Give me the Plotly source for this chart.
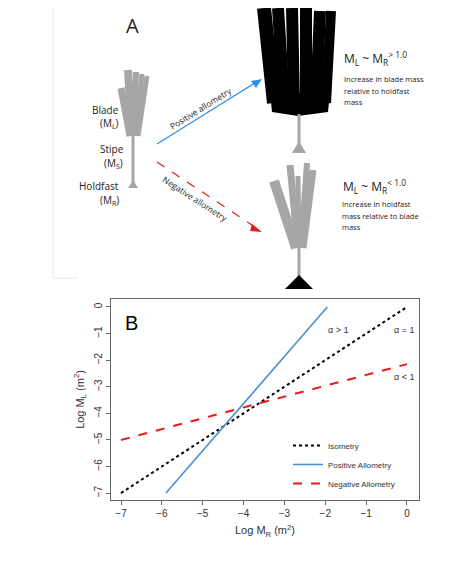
import plotly.graph_objects as go

W, H = 474, 568

# panel B data (log masses)
iso_x = [-7, 0]
iso_y = [-7, 0]
pos_x = [-5.9, -1.95]
pos_y = [-7, 0]
neg_x = [-7, 0]
neg_y = [-5, -2.15]
x_ticks = [-7, -6, -5, -4, -3, -2, -1, 0]
y_ticks = [0, -1, -2, -3, -4, -5, -6, -7]


def px(x, y):
    # pixel position -> paper coords
    return x / W, 1 - y / H


fig = go.Figure()
fig.add_trace(go.Scatter(x=iso_x, y=iso_y, mode="lines", name="Isometry",
                         line=dict(color="black", dash="dot", width=2)))
fig.add_trace(go.Scatter(x=pos_x, y=pos_y, mode="lines", name="Positive Allometry",
                         line=dict(color="#4a8fcf", width=1.6)))
fig.add_trace(go.Scatter(x=neg_x, y=neg_y, mode="lines", name="Negative Allometry",
                         line=dict(color="#e8191c", dash="dash", width=2)))

ax = dict(showline=True, mirror=True, linecolor="#666", linewidth=1.2, ticks="outside",
          ticklen=4, tickcolor="#666", showgrid=False, zeroline=False,
          tickfont=dict(size=10, color="#333"))
fig.update_layout(
    width=W, height=H, margin=dict(l=0, r=0, t=0, b=0),
    plot_bgcolor="white", paper_bgcolor="white",
    font=dict(family="Liberation Sans, Arial", color="#333"),
    xaxis=dict(ax, domain=[103 / W, 411 / W], range=[-7.245, 0.294], tickvals=x_ticks,
               title=dict(text="Log M<sub>R</sub> (m<sup>2</sup>)", font=dict(size=11), standoff=8)),
    yaxis=dict(ax, domain=[1 - 492 / H, 1 - 291 / H], range=[-7.26, 0.3], tickvals=y_ticks,
               tickangle=-90,
               title=dict(text="Log M<sub>L</sub> (m<sup>2</sup>)", font=dict(size=11), standoff=6)),
    legend=dict(x=280 / W, y=1 - 490 / H, xanchor="left", yanchor="bottom",
                bgcolor="rgba(0,0,0,0)", font=dict(size=8), tracegroupgap=0,
                itemwidth=30, traceorder="normal"),
)

for t, x, y in [("α > 1", -1.69, -0.87), ("α = 1", -0.07, -0.87), ("α < 1", -0.07, -2.63)]:
    fig.add_annotation(x=x, y=y, text=t, showarrow=False, font=dict(size=9, color="#333"),
                       xanchor="center")
fig.add_annotation(x=-6.75, y=-0.6, text="B", showarrow=False, font=dict(size=20, color="black"))

# ---- panel A drawing ----
shapes = []


def line(x0, y0, x1, y1, color, width, dash="solid"):
    a, b = px(x0, y0)
    c, d = px(x1, y1)
    shapes.append(dict(type="line", xref="paper", yref="paper", x0=a, y0=b, x1=c, y1=d,
                       line=dict(color=color, width=width, dash=dash)))


def poly(points, color):
    p = [px(x, y) for x, y in points]
    path = "M " + " L ".join(f"{a},{b}" for a, b in p) + " Z"
    shapes.append(dict(type="path", xref="paper", yref="paper", path=path,
                       fillcolor=color, line=dict(width=0)))


gray = "#a6a6a6"
# small kelp
for (x0, y0, x1, y1, w) in [(113, 80, 122, 128, 7), (120, 62, 124, 128, 8), (128, 64, 126, 128, 6),
                            (134, 66, 128, 128, 5), (139, 68, 130, 128, 5)]:
    line(x0, y0, x1, y1, gray, w)
line(125, 128, 125, 176, gray, 3)
poly([(120, 180), (125, 172), (130, 180)], gray)
# big black kelp
for (x0, y0, x1, y1, w) in [(256, 0, 266, 95, 14), (270, 0, 276, 95, 12), (284, 0, 286, 95, 12),
                            (298, 0, 298, 95, 12), (312, 3, 308, 95, 12), (323, 3, 318, 95, 10)]:
    line(x0, y0, x1, y1, "black", w)
poly([(262, 85), (322, 85), (320, 104), (290, 108), (264, 104)], "black")
line(291, 106, 291, 140, gray, 3)
poly([(284, 145), (291, 133), (298, 145)], gray)
# lower gray kelp
for (x0, y0, x1, y1, w) in [(266, 173, 288, 240, 10), (282, 157, 290, 240, 7), (290, 168, 291, 240, 5),
                            (299, 155, 293, 240, 6), (305, 162, 295, 240, 7)]:
    line(x0, y0, x1, y1, gray, w)
line(291, 238, 291, 270, gray, 3)
poly([(277, 281), (291, 267), (305, 281)], "black")
# arrows
line(149, 136, 250, 73, "#2f8fe0", 1.2)
line(149, 154, 250, 221, "#e8191c", 1.2, "dash")
poly([(254, 71), (243, 73), (248, 80)], "#2f8fe0")
poly([(254, 224), (244, 216), (242, 223)], "#e8191c")
# panel border lines
line(45, 0, 45, 270, "#e6e6e6", 1)
line(45, 270, 70, 270, "#e6e6e6", 1)
fig.update_layout(shapes=shapes)


def text(x, y, s, size, anchor="center", angle=0, color="#222"):
    a, b = px(x, y)
    fig.add_annotation(xref="paper", yref="paper", x=a, y=b, text=s, showarrow=False,
                       xanchor=anchor, yanchor="middle", textangle=angle,
                       font=dict(size=size, color=color, family="Open Sans, Liberation Sans"))


text(124, 17, "A", 20)
for s, x, y in [("Blade", 97, 102), ("(M<sub>L</sub>)", 101, 116), ("Stipe", 104, 141),
                ("(M<sub>S</sub>)", 105, 155), ("Holdfast", 91, 178), ("(M<sub>R</sub>)", 101, 192)]:
    text(x, y, s, 10)
text(192, 100, "Positive allometry", 8.5, angle=-32)
text(187, 190, "Negative allometry", 8.5, angle=33)
text(334, 50, "M<sub>L</sub> ~ M<sub>R</sub><sup>> 1.0</sup>", 12, "left")
for i, s in enumerate(["Increase in blade mass", "relative to holdfast", "mass"]):
    text(334, 71 + 11.5 * i, s, 7.5, "left")
text(333, 178, "M<sub>L</sub> ~ M<sub>R</sub><sup>< 1.0</sup>", 12, "left")
for i, s in enumerate(["Increase in holdfast", "mass relative to blade", "mass"]):
    text(332, 196 + 11.5 * i, s, 7.5, "left")

fig.write_html("out.html")
